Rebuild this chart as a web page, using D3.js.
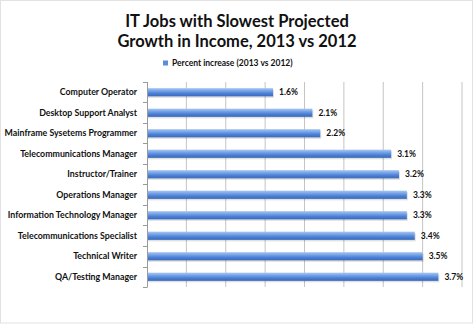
<!DOCTYPE html>
<html>
<head>
<meta charset="utf-8">
<script src="https://cdn.jsdelivr.net/npm/d3@7"></script>
<style>
  html, body { margin: 0; padding: 0; background: #fff; }
  svg { display: block; }
  text { font-family: Lato, "Open Sans", "DejaVu Sans", sans-serif; font-weight: bold; fill: #111; }
</style>
</head>
<body>
<svg id="chart" width="474" height="325"></svg>
<script>
// Job titles, slowest growth first
const categories = [
  "Computer Operator",
  "Desktop Support Analyst",
  "Mainframe Sysetems Programmer",
  "Telecommunications Manager",
  "Instructor/Trainer",
  "Operations Manager",
  "Information Technology Manager",
  "Telecommunications Specialist",
  "Technical Writer",
  "QA/Testing Manager"
];
// Projected percent increase in income, 2013 vs 2012
const values = [1.6, 2.1, 2.2, 3.1, 3.2, 3.3, 3.3, 3.4, 3.5, 3.7];
const titleLines = ["IT Jobs with Slowest Projected", "Growth in Income, 2013 vs 2012"];
const seriesName = "Percent increase (2013 vs 2012)";
const gridTicks = [0, 0.5, 1, 1.5, 2, 2.5, 3, 3.5, 4];

const svg = d3.select("#chart");
const W = 474, H = 325;
const plot = { left: 147, right: 462, top: 82, bottom: 287 };

// light frame around the chart area
svg.append("rect")
  .attr("x", 0.5).attr("y", 0.5)
  .attr("width", W - 2).attr("height", H - 2.5)
  .attr("fill", "#fff").attr("stroke", "#e2e2e2");

const x = d3.scaleLinear().domain([0, 4]).range([plot.left, plot.right]);
const y = d3.scaleBand().domain(categories)
  .range([plot.top, plot.bottom]).paddingInner(0.6).paddingOuter(0.3);

// bar gradient: light top edge fading into a deeper blue
const defs = svg.append("defs");
const grad = defs.append("linearGradient").attr("id", "barFill")
  .attr("x1", 0).attr("y1", 0).attr("x2", 0).attr("y2", 1);
[["0%", "#a9c7f2"], ["30%", "#7aa6e8"], ["65%", "#4b80d6"], ["100%", "#3a69b8"]]
  .forEach(([o, c]) => grad.append("stop").attr("offset", o).attr("stop-color", c));

// title
svg.append("text")
  .attr("x", 237).attr("text-anchor", "middle")
  .style("font-size", "16.5px")
  .selectAll("tspan").data(titleLines).join("tspan")
  .attr("x", 237).attr("y", (d, i) => 27 + i * 19.5)
  .text(d => d);

// legend
const legend = svg.append("g");
legend.append("rect").attr("x", 163).attr("y", 60.5).attr("width", 5).attr("height", 5)
  .attr("fill", "#5b8ddb");
legend.append("text").attr("x", 172).attr("y", 66)
  .style("font-size", "8.5px").text(seriesName);

// vertical gridlines
svg.append("g").selectAll("line").data(gridTicks.slice(1)).join("line")
  .attr("x1", d => x(d)).attr("x2", d => x(d))
  .attr("y1", plot.top).attr("y2", plot.bottom)
  .attr("stroke", "#c4c4c4").attr("stroke-width", 1);

// bars with a soft shadow beneath
const bars = svg.append("g");
bars.selectAll("rect.shadow").data(values).join("rect")
  .attr("class", "shadow")
  .attr("x", x(0)).attr("y", (d, i) => y(categories[i]) + 1.5)
  .attr("width", d => x(d) - x(0) + 1).attr("height", y.bandwidth())
  .attr("fill", "#000").attr("opacity", 0.12);
bars.selectAll("rect.bar").data(values).join("rect")
  .attr("class", "bar")
  .attr("x", x(0)).attr("y", (d, i) => y(categories[i]))
  .attr("width", d => x(d) - x(0)).attr("height", y.bandwidth())
  .attr("fill", "url(#barFill)");

// value labels
svg.append("g").selectAll("text").data(values).join("text")
  .attr("x", d => x(d) + 6)
  .attr("y", (d, i) => y(categories[i]) + y.bandwidth() / 2 + 3)
  .style("font-size", "8.5px")
  .text(d => d3.format(".1f")(d) + "%");

// category axis with ticks at band boundaries
const axisG = svg.append("g");
axisG.append("line")
  .attr("x1", plot.left + 0.5).attr("x2", plot.left + 0.5)
  .attr("y1", plot.top).attr("y2", plot.bottom)
  .attr("stroke", "#9a9a9a");
const bounds = categories.map(c => y(c) - y.step() * y.paddingInner() / 2)
  .concat([plot.bottom]);
axisG.selectAll("line.tick").data(bounds).join("line")
  .attr("class", "tick")
  .attr("x1", plot.left - 4).attr("x2", plot.left + 0.5)
  .attr("y1", d => Math.round(d) + 0.5).attr("y2", d => Math.round(d) + 0.5)
  .attr("stroke", "#9a9a9a");
axisG.selectAll("text").data(categories).join("text")
  .attr("x", 137).attr("text-anchor", "end")
  .attr("y", d => y(d) + y.bandwidth() / 2 + 3)
  .style("font-size", "8.8px")
  .text(d => d);
</script>
</body>
</html>
